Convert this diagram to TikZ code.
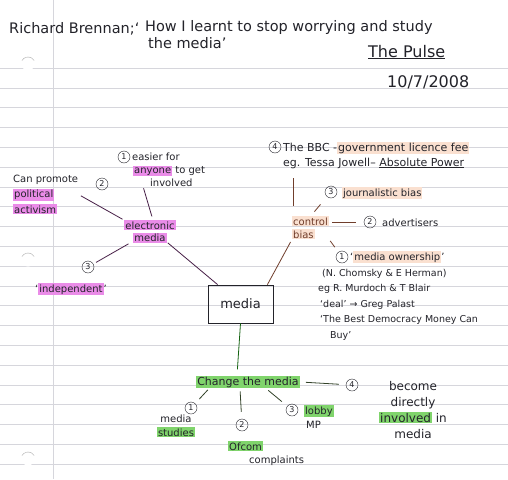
\documentclass[tikz,border=0pt]{standalone}
\usepackage{fontspec}
\setmainfont{DejaVu Sans}
\usetikzlibrary{positioning}
\definecolor{ink}{RGB}{35,35,42}
\definecolor{hlpink}{RGB}{234,140,232}
\definecolor{hlgreen}{RGB}{128,212,108}
\definecolor{hlpeach}{RGB}{250,224,208}
\definecolor{brn}{RGB}{112,62,44}
\definecolor{lnp}{RGB}{70,30,70}
\definecolor{lng}{RGB}{50,66,40}
\definecolor{rule}{RGB}{214,214,220}
\setlength\fboxsep{1pt}
\newcommand\hp[1]{\colorbox{hlpink}{#1}}
\newcommand\hg[1]{\colorbox{hlgreen}{#1}}
\newcommand\ho[1]{\colorbox{hlpeach}{#1}}
\tikzset{txt/.style={inner sep=0pt,align=left,text=ink,font=\fontsize{10}{15.5}\selectfont},hd/.style={txt,font=\fontsize{14.5}{17}\selectfont},num/.style={draw=ink,circle,inner sep=0pt,minimum size=12pt,text=ink,font=\fontsize{8}{9}\selectfont},pl/.style={draw=lnp,line width=.8pt},bl/.style={draw=brn,line width=.8pt},gl/.style={draw=lng,line width=.8pt}}
\begin{document}
\begin{tikzpicture}[x=1pt,y=-1pt]
\fill[white](0,0)rectangle(508,479);
\useasboundingbox(0,0)rectangle(508,479);
\foreach\i in{0,...,20}\draw[rule](0,{68+19.8*\i})--(508,{68+19.8*\i});
\draw[rule](53,0)--(53,479);
\foreach\y in{64,260,459}{\fill[white](28,\y)circle(6.5);\draw[gray!70](22,{\y-3.5})arc(210:330:7);}
\node[hd,anchor=base west](hdA)at(9,33){Richard Brennan;‘};
\node[hd,anchor=base west](hdB)at(145,31){How I learnt to stop worrying and study};
\node[hd,anchor=base west](hdC)at(148,48){the media’};
\node[hd,anchor=base west,font=\fontsize{16}{18}\selectfont](pulse)at(368,57){The Pulse};
\draw[ink,line width=.8pt]([yshift=-1pt]pulse.south west)--([yshift=-1pt]pulse.south east);
\node[hd,anchor=base west,font=\fontsize{16}{18}\selectfont](date)at(387,87){10/7/2008};
\node[txt,anchor=base west](promo)at(13,213){Can promote\\\hp{political}\\\hp{activism}};
\node[num](n2a)at(102,184){2};
\node[txt,anchor=base,align=center,font=\fontsize{10}{12.5}\selectfont](elec)at(150,241.5){\hp{electronic}\\\hp{media}};
\node[num](n1a)at(124,157){1};
\node[txt,anchor=base west,font=\fontsize{10}{13}\selectfont](easy)at(132,186){easier for\\\hspace*{1pt}\hp{anyone} to get\\\hspace*{18pt}involved};
\node[num](n3a)at(88,267){3};
\node[txt,anchor=base west](indep)at(35,292){‘\hp{independent}’};
\node[draw=ink,line width=.8pt,minimum width=65pt,minimum height=38pt,text=ink,font=\fontsize{13}{15}\selectfont](box)at(240.5,304){media};
\draw[pl,shorten <=3pt,shorten >=2pt](promo.east)--(elec.north west);
\draw[pl,shorten <=2pt,shorten >=4pt]([xshift=11pt]easy.south west)--([xshift=3pt]elec.north);
\draw[pl,shorten <=2pt,shorten >=3pt]([xshift=6pt]elec.south west)--(n3a);
\draw[pl]([xshift=-8pt]elec.south east)--([xshift=10pt]box.north west);
\node[num](n4a)at(275,147){4};
\node[txt,anchor=base west,font=\fontsize{11}{15}\selectfont](bbc)at(283,166){The BBC -\ho{government licence fee}\\eg. Tessa Jowell– \underline{Absolute Power}};
\node[txt,anchor=base west,text=brn,font=\fontsize{10}{13}\selectfont](ctrl)at(292,238){\ho{control}\\\ho{bias}};
\node[num](n3b)at(331,192){3};
\node[txt,anchor=base west](jour)at(342,196){\ho{journalistic bias}};
\node[num](n2b)at(370,222){2};
\node[txt,anchor=base west](adv)at(382,226){advertisers};
\node[num](n1b)at(342,257){1};
\node[txt,anchor=base west](own)at(350,260){‘\ho{media ownership}’};
\node[txt,anchor=base west,font=\fontsize{9.5}{15.5}\selectfont](ownx)at(318,338){\hspace*{4pt}(N. Chomsky \& E Herman)\\eg R. Murdoch \& T Blair\\\hspace*{2pt}‘deal’ → Greg Palast\\\hspace*{2pt}‘The Best Democracy Money Can\\\hspace*{12pt}Buy’};
\draw[bl,shorten <=10pt,shorten >=10pt]([xshift=10pt]bbc.south west)--([xshift=1pt]ctrl.north west);
\draw[bl,shorten <=6pt,shorten >=10pt](ctrl.north)--(n3b);
\draw[bl,shorten <=3pt,shorten >=8pt](ctrl.east|-n2b)--(n2b);
\draw[bl,shorten <=2pt,shorten >=6pt](ctrl.south east)--(n1b);
\draw[bl,shorten >=3pt]([xshift=-6pt]box.north east)--(ctrl.south west);
\node[txt,anchor=base,font=\fontsize{11}{13}\selectfont](chg)at(248,385){\hg{Change the media}};
\node[num](n4c)at(352,385){4};
\node[txt,anchor=base,align=center,font=\fontsize{12}{16}\selectfont](becm)at(413,438){become\\directly\\\hg{involved} in\\media};
\node[num](n1c)at(191,408){1};
\node[txt,anchor=base,align=center,font=\fontsize{10}{14}\selectfont](stud)at(176,436){media\\\hg{studies}};
\node[num](n2c)at(242,425){2};
\node[txt,anchor=base west,font=\fontsize{10}{13}\selectfont](ofc)at(228,463){\hg{Ofcom}\\\hspace*{21pt}complaints};
\node[num](n3c)at(292,410){3};
\node[txt,anchor=base west,font=\fontsize{10}{14}\selectfont](lob)at(304,428){\hg{lobby}\\\hspace*{2pt}MP};
\draw[gl,draw=lng!60!green!70!black,shorten >=6pt](box.south)--([xshift=-11pt]chg.north);
\draw[gl,shorten <=6pt,shorten >=7pt](chg.east)--(n4c);
\draw[gl,shorten <=2pt,shorten >=6pt]([xshift=13pt]chg.south west)--(n1c);
\draw[gl,shorten <=3pt,shorten >=7pt]([xshift=-8pt]chg.south)--(n2c);
\draw[gl,shorten <=3pt,shorten >=7pt]([xshift=18pt]chg.south)--(n3c);
\end{tikzpicture}
\end{document}
